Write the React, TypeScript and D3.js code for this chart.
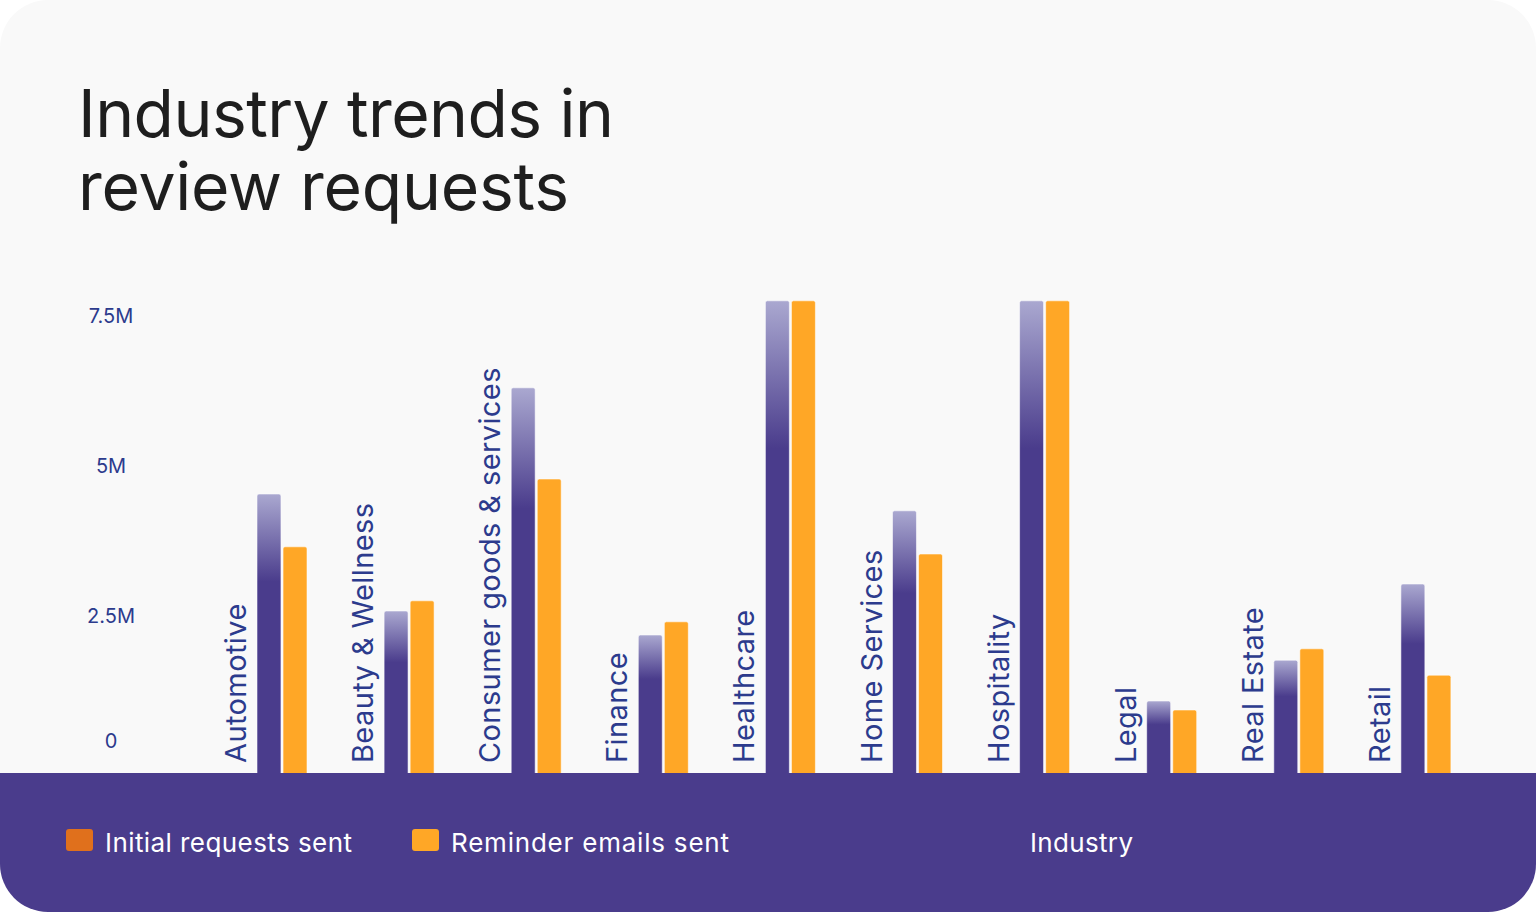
// grouped bars - review requests by industry

import { useEffect, useRef } from 'react';
import * as d3 from 'd3';

const industries = [
  'Automotive',
  'Beauty & Wellness',
  'Consumer goods & services',
  'Finance',
  'Healthcare',
  'Home Services',
  'Hospitality',
  'Legal',
  'Real Estate',
  'Retail',
];

// values in millions
const initialSent = [4.65, 2.7, 6.42, 2.3, 7.87, 4.37, 7.87, 1.2, 1.88, 3.15];
const reminderSent = [3.77, 2.87, 4.9, 2.52, 7.87, 3.65, 7.87, 1.05, 2.07, 1.63];

const seriesNames = ['Initial requests sent', 'Reminder emails sent'];
const yTicks = [0, 2.5, 5, 7.5];
const yTickLabels = ['0', '2.5M', '5M', '7.5M'];

const App: React.FC = () => {
  const svgRef = useRef<SVGSVGElement | null>(null);

  useEffect(() => {
    if (!svgRef.current) return;
    const svg = d3.select(svgRef.current);
    svg.selectAll('*').remove();

    const width = 1536;
    const height = 912;
    const baseline = 773;
    const labelColor = '#2c3b8d';
    const purple = '#4a3c8c';
    const orange = '#ffa726';
    const font = 'Inter, "Open Sans", sans-serif';

    const defs = svg.append('defs');
    defs.append('clipPath').attr('id', 'card')
      .append('rect')
      .attr('width', width).attr('height', height)
      .attr('rx', 48);

    const grad = defs.append('linearGradient')
      .attr('id', 'initGrad')
      .attr('x1', 0).attr('y1', 0).attr('x2', 0).attr('y2', 1);
    grad.append('stop').attr('offset', '0%').attr('stop-color', '#aaa8d0');
    grad.append('stop').attr('offset', '31%').attr('stop-color', purple);
    grad.append('stop').attr('offset', '100%').attr('stop-color', purple);

    const card = svg.append('g').attr('clip-path', 'url(#card)');
    card.append('rect').attr('width', width).attr('height', height).attr('fill', '#f9f9f9');

    // title
    const title = card.append('text')
      .attr('font-family', font)
      .attr('font-size', 66)
      .attr('fill', '#1e1e1e');
    title.append('tspan').attr('x', 78).attr('y', 137)
      .attr('textLength', 536).attr('lengthAdjust', 'spacing')
      .text('Industry trends in');
    title.append('tspan').attr('x', 78).attr('y', 210)
      .attr('textLength', 491).attr('lengthAdjust', 'spacing')
      .text('review requests');

    // scales
    const yScale = d3.scaleLinear().domain([0, 7.5]).range([baseline, 323]);

    const xScale = d3.scaleBand<string>()
      .domain(industries)
      .range([257, 257 + 127.1 * industries.length])
      .paddingInner(0);

    const xInner = d3.scaleBand<string>()
      .domain(seriesNames)
      .range([0, 50])
      .paddingInner(0.08);

    // y tick labels
    card.append('g')
      .selectAll('text')
      .data(yTicks)
      .join('text')
      .attr('x', 111)
      .attr('y', (d) => Math.min(yScale(d) - 7, 741))
      .attr('dy', '0.35em')
      .attr('text-anchor', 'middle')
      .attr('font-family', font)
      .attr('font-size', 20)
      .attr('fill', labelColor)
      .text((d, i) => yTickLabels[i]);

    // category labels
    card.append('g')
      .selectAll('text')
      .data(industries)
      .join('text')
      .attr('transform', (d) => `translate(${(xScale(d) as number) - 11},763) rotate(-90)`)
      .attr('font-family', font)
      .attr('font-size', 29)
      .attr('letter-spacing', 0.4)
      .attr('fill', labelColor)
      .text((d) => d);

    // bars
    const groups = card.append('g')
      .selectAll('g')
      .data(industries)
      .join('g')
      .attr('transform', (d) => `translate(${xScale(d)},0)`);

    groups.append('rect')
      .attr('x', xInner(seriesNames[0]) as number)
      .attr('y', (d, i) => yScale(initialSent[i]))
      .attr('width', xInner.bandwidth())
      .attr('height', (d, i) => baseline - yScale(initialSent[i]) + 4)
      .attr('rx', 2)
      .attr('fill', 'url(#initGrad)')
      .attr('stroke', 'rgba(255,255,255,0.55)')
      .attr('stroke-width', 1);

    groups.append('rect')
      .attr('x', xInner(seriesNames[1]) as number)
      .attr('y', (d, i) => yScale(reminderSent[i]))
      .attr('width', xInner.bandwidth())
      .attr('height', (d, i) => baseline - yScale(reminderSent[i]) + 4)
      .attr('rx', 2)
      .attr('fill', orange)
      .attr('stroke', 'rgba(255,255,255,0.55)')
      .attr('stroke-width', 1);

    // bottom band
    card.append('rect')
      .attr('x', 0).attr('y', baseline)
      .attr('width', width).attr('height', height - baseline)
      .attr('fill', purple);

    // legend
    const legendColors = ['#e0701c', orange];
    const legendX = [66, 412];
    const legendLen = [247, 278];
    const legend = card.append('g')
      .selectAll('g')
      .data(seriesNames)
      .join('g')
      .attr('transform', (d, i) => `translate(${legendX[i]},829)`);

    legend.append('rect')
      .attr('width', 27).attr('height', 22).attr('rx', 3)
      .attr('fill', (d, i) => legendColors[i]);

    legend.append('text')
      .attr('x', 39).attr('y', 23)
      .attr('font-family', font)
      .attr('font-size', 26)
      .attr('textLength', (d, i) => legendLen[i])
      .attr('lengthAdjust', 'spacing')
      .attr('fill', '#ffffff')
      .text((d) => d);

    card.append('text')
      .attr('x', 1030).attr('y', 852)
      .attr('font-family', font)
      .attr('font-size', 26)
      .attr('textLength', 103)
      .attr('lengthAdjust', 'spacing')
      .attr('fill', '#ffffff')
      .text('Industry');
  }, []);

  return (
    <svg
      ref={svgRef}
      width="1536"
      height="912"
      style={{ position: 'absolute', left: 0, top: 0, background: '#ffffff' }}
    ></svg>
  );
};

export default App;
